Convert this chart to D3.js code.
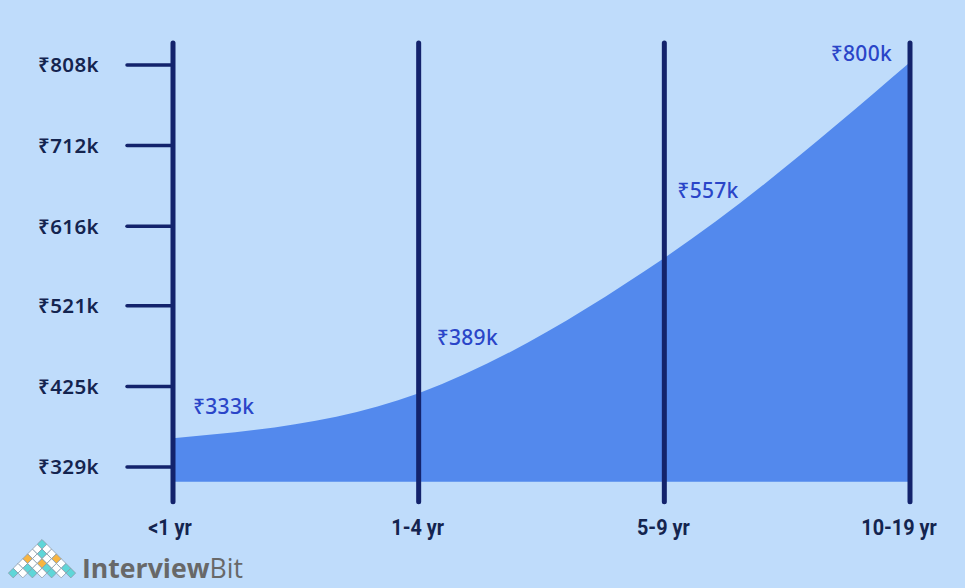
<!DOCTYPE html>
<html>
<head>
<meta charset="utf-8">
<script src="https://cdn.jsdelivr.net/npm/d3@7"></script>
<style>
  html, body { margin: 0; padding: 0; background: #bfdcfb; }
  svg { display: block; }
</style>
</head>
<body>
<svg id="chart" width="965" height="588"></svg>
<script>
// ---- data ----
const categories = ["<1 yr", "1-4 yr", "5-9 yr", "10-19 yr"];
const salaries = [333, 389, 557, 800];            // in thousand ₹
const tickValues = [329, 425, 521, 616, 712, 808]; // y-axis tick labels (thousand ₹)

// ---- layout ----
const W = 965, H = 588;
const colors = { bg: "#bfdcfb", area: "#5389ed", line: "#13236c", label: "#2a45c8", tick: "#14244f", logo: "#686868" };
const labelOffsets = [ {dx: 20, dy: -24, anchor: "start"}, {dx: 18, dy: -48, anchor: "start"},
                       {dx: 13, dy: -60, anchor: "start"}, {dx: -18, dy: -1, anchor: "end"} ];
const xLabelShift = [-3, -1, -1, -11];

const svg = d3.select("#chart");
svg.append("rect").attr("width", W).attr("height", H).attr("fill", colors.bg);

const x = d3.scalePoint().domain(categories).range([173, 910]);
const y = d3.scaleLinear().domain([279, 824]).range([481.7, 43]);       // value scale for the area
const yTick = d3.scaleLinear().domain([329, 808]).range([467, 65]);     // axis tick placement

const data = categories.map((c, i) => ({ c, v: salaries[i] }));

// area
const area = d3.area()
  .x(d => x(d.c))
  .y0(y(y.domain()[0]))
  .y1(d => y(d.v))
  .curve(d3.curveMonotoneX);
svg.append("path").datum(data).attr("d", area).attr("fill", colors.area);

// y ticks
const tickG = svg.append("g");
tickG.selectAll("line").data(tickValues).join("line")
  .attr("x1", 127).attr("x2", x(categories[0]))
  .attr("y1", d => yTick(d)).attr("y2", d => yTick(d))
  .attr("stroke", colors.line).attr("stroke-width", 3.5).attr("stroke-linecap", "round");
tickG.selectAll("text").data(tickValues).join("text")
  .attr("x", 99).attr("y", d => yTick(d))
  .attr("dy", "0.36em")
  .attr("text-anchor", "end")
  .attr("fill", colors.tick)
  .attr("font-family", "'Noto Sans', 'DejaVu Sans', sans-serif")
  .attr("font-weight", 600)
  .attr("font-size", 20.5)
  .attr("letter-spacing", 0.4)
  .text(d => "₹" + d + "k");

// vertical lines
svg.append("g").selectAll("line").data(categories).join("line")
  .attr("x1", d => x(d)).attr("x2", d => x(d))
  .attr("y1", y.range()[1]).attr("y2", y.range()[0] + 20)
  .attr("stroke", colors.line).attr("stroke-width", 5).attr("stroke-linecap", "round");

// x labels (condensed look)
svg.append("g").selectAll("text").data(categories).join("text")
  .attr("x", (d, i) => x(d) + xLabelShift[i]).attr("y", 535)
  .attr("text-anchor", "middle")
  .attr("fill", colors.tick)
  .attr("font-family", "'Roboto', sans-serif")
  .attr("font-weight", 700)
  .attr("font-size", 22)
  .text(d => d)
  .each(function () {
    const w = this.getComputedTextLength();
    d3.select(this).attr("textLength", w * 0.9).attr("lengthAdjust", "spacingAndGlyphs");
  });

// data labels
svg.append("g").selectAll("text").data(data).join("text")
  .attr("x", (d, i) => x(d.c) + labelOffsets[i].dx)
  .attr("y", (d, i) => y(d.v) + labelOffsets[i].dy)
  .attr("text-anchor", (d, i) => labelOffsets[i].anchor)
  .attr("fill", colors.label)
  .attr("font-family", "'Noto Sans', 'DejaVu Sans', sans-serif")
  .attr("font-weight", 500)
  .attr("font-size", 21)
  .attr("letter-spacing", 0.3)
  .text(d => "₹" + d.v + "k");

// logo
const logo = svg.append("g");
const d = 9.6, apexX = 42, topY = 539.5;
const pattern = [
  "T",
  "WW",
  "WTW",
  "OWWO",
  "WWOWW",
  "WTWTWT",
  "TWTWTWT"
];
const pc = { T: "#5fd6d8", W: "#ffffff", O: "#f8b541" };
pattern.forEach((row, j) => {
  row.split("").forEach((ch, i) => {
    const cx = apexX + (-j + 2 * i) * d / 2;
    const cy = topY + d / 2 + j * d / 2;
    logo.append("path")
      .attr("d", `M${cx},${cy - d/2}L${cx + d/2},${cy}L${cx},${cy + d/2}L${cx - d/2},${cy}Z`)
      .attr("fill", pc[ch]).attr("stroke", "#8a9aa8").attr("stroke-width", 0.8);
  });
});
const logoText = logo.append("text")
  .attr("x", 82).attr("y", 578)
  .attr("fill", colors.logo)
  .attr("font-family", "'Open Sans', 'Noto Sans', sans-serif")
  .attr("font-size", 31);
logoText.append("tspan").attr("font-weight", 700).text("Interview");
logoText.append("tspan").attr("font-weight", 400).text("Bit");
const tw = logoText.node().getComputedTextLength();
logoText.attr("font-size", 31 * 161 / tw);
</script>
</body>
</html>
